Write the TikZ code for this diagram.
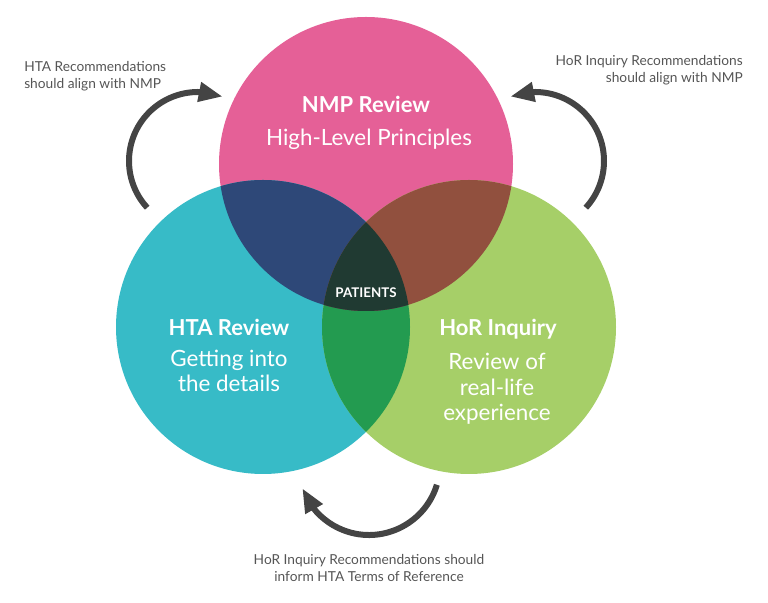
\documentclass[tikz,border=0pt]{standalone}
\usepackage{fontspec}
\setmainfont{Lato}
\usepackage{tikz}
\usetikzlibrary{arrows.meta, bending}

\definecolor{nmppink}{HTML}{E56097}
\definecolor{htateal}{HTML}{37BBC7}
\definecolor{horgreen}{HTML}{A6CF68}
\definecolor{pinkteal}{HTML}{2E4878}
\definecolor{pinkgreen}{HTML}{91503E}
\definecolor{tealgreen}{HTML}{239B50}
\definecolor{allthree}{HTML}{203A32}
\definecolor{arrowgray}{HTML}{444444}
\definecolor{notegray}{HTML}{555555}
\newcommand{\circrad}{110.25pt}

\begin{document}
\begin{tikzpicture}[x=0.75pt, y=0.75pt,
    bigarrow/.style={draw=arrowgray, line width=4.5pt, -{Triangle[length=18pt, width=14pt]}},
    title/.style={text=white, font=\fontsize{16.5}{19}\selectfont\bfseries, inner sep=0pt},
    sub/.style={text=white, font=\fontsize{16.8}{19.2}\selectfont, align=center, inner sep=0pt},
    note/.style={text=notegray, font=\fontsize{10.3}{12.75}\selectfont, inner sep=0pt}]
                  \useasboundingbox (0,0) rectangle (768,603);

                  % Define points
                  \coordinate (nmp) at (366,439);
                  \coordinate (hta) at (263,276);
                  \coordinate (hor) at (469,276);

                  % Draw circles
                  \fill[nmppink] (nmp) circle[radius=\circrad];
                  \fill[htateal] (hta) circle[radius=\circrad];
                  \fill[horgreen] (hor) circle[radius=\circrad];

                  % Overlaps
                  \begin{scope}
                    \clip (hta) circle[radius=\circrad];
                    \fill[tealgreen] (hor) circle[radius=\circrad];
                  \end{scope}
                  \begin{scope}
                    \clip (nmp) circle[radius=\circrad];
                    \fill[pinkteal] (hta) circle[radius=\circrad];
                    \fill[pinkgreen] (hor) circle[radius=\circrad];
                    \clip (hta) circle[radius=\circrad];
                    \fill[allthree] (hor) circle[radius=\circrad];
                  \end{scope}

                  % Labels (base = last line)
                  \node[title, anchor=base] (nmptitle) at (366,490) {NMP Review};
                  \node[sub, anchor=base] (nmpsub) at (369,457) {High-Level Principles};
                  \node[title, anchor=base] (htatitle) at (229,267) {HTA Review};
                  \node[sub, anchor=base] (htasub) at (229,211) {Getting into\\the details};
                  \node[title, anchor=base] (hortitle) at (498,267) {HoR Inquiry};
                  \node[sub, anchor=base] (horsub) at (497,182) {Review of\\real-life\\experience};
                  \node[text=white, inner sep=0pt, anchor=base, font=\fontsize{10}{11}\selectfont\bfseries] (patients) at (366,305) {PATIENTS};

                  % Arrows
                  \coordinate (htaarrow) at ([shift={(222.6:69)}]198,442);
                  \coordinate (horarrow) at ([shift={(-42.6:69)}]535,442);
                  \coordinate (informarrow) at ([shift={(-17:71)}]369,139);
                  \draw[bigarrow] (htaarrow) arc[start angle=222.6, end angle=69, radius=51.75pt];
                  \draw[bigarrow] (horarrow) arc[start angle=-42.6, end angle=111, radius=51.75pt];
                  \draw[bigarrow] (informarrow) arc[start angle=-17, end angle=-160, radius=53.25pt];

                  % Notes
                  \node[note, anchor=base west, align=left] (notehta) at (24,514) {HTA Recommendations\\should align with NMP};
                  \node[note, anchor=base east, align=right] (notehor) at (743,520) {HoR Inquiry Recommendations\\should align with NMP};
                  \node[note, anchor=base, align=center] (noteinform) at (369,21) {HoR Inquiry Recommendations should\\inform HTA Terms of Reference};

              \end{tikzpicture}
\end{document}
